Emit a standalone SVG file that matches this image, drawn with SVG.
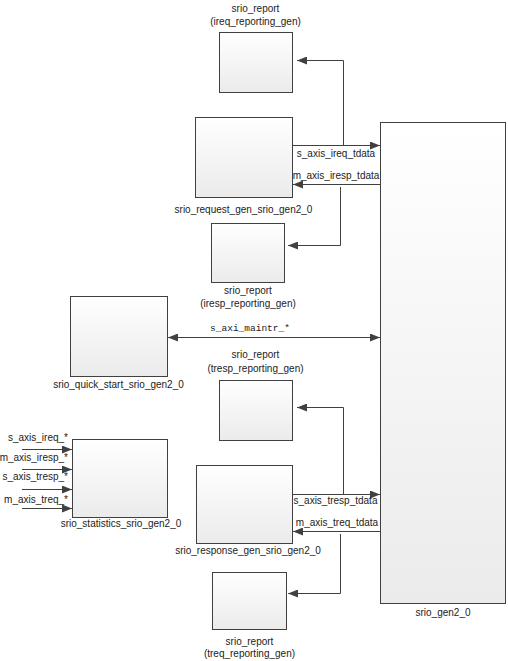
<svg xmlns="http://www.w3.org/2000/svg" width="508" height="661" viewBox="0 0 508 661">
<defs>
<linearGradient id="g" x1="0" y1="0" x2="0" y2="1">
<stop offset="0" stop-color="#ffffff"/>
<stop offset="1" stop-color="#ebebeb"/>
</linearGradient>
<marker id="ah" viewBox="0 0 10 8" refX="10" refY="4" markerWidth="10" markerHeight="8" markerUnits="userSpaceOnUse" orient="auto-start-reverse">
<path d="M0,0 L10,4 L0,8 Z" fill="#404040"/>
</marker>
</defs>
<style>
.box{fill:url(#g);stroke:#404040;stroke-width:1}
text{font-family:"Liberation Sans",Arial,sans-serif;font-size:10px;fill:#222}
.m{text-anchor:middle}
.e{text-anchor:end}
.mono{font-family:"Liberation Mono","Courier New",monospace;font-size:9.5px}
.c{fill:none;stroke:#404040;stroke-width:1}
</style>
<rect width="508" height="661" fill="#ffffff"/>

<g id="srio_gen2_0">
<rect class="box" x="380.5" y="122.5" width="125" height="481"/>
<text class="m" x="443" y="616">srio_gen2_0</text>
</g>
<g id="ireq_reporting_gen">
<rect class="box" x="219.5" y="32.5" width="73" height="60"/>
<text class="m" x="255.5" y="12">srio_report</text>
<text class="m" x="255.5" y="25">(ireq_reporting_gen)</text>
</g>
<g id="srio_request_gen">
<rect class="box" x="195.5" y="117.5" width="97" height="80"/>
<text class="m" x="243.5" y="213">srio_request_gen_srio_gen2_0</text>
</g>
<g id="iresp_reporting_gen">
<rect class="box" x="211.5" y="223.5" width="73" height="59"/>
<text class="m" x="248" y="294">srio_report</text>
<text class="m" x="248" y="307">(iresp_reporting_gen)</text>
</g>
<g id="srio_quick_start">
<rect class="box" x="70.5" y="296.5" width="97" height="80"/>
<text class="m" x="118.5" y="388">srio_quick_start_srio_gen2_0</text>
</g>
<g id="tresp_reporting_gen">
<rect class="box" x="219.5" y="380.5" width="73" height="60"/>
<text class="m" x="255.5" y="358">srio_report</text>
<text class="m" x="255.5" y="372">(tresp_reporting_gen)</text>
</g>
<g id="srio_statistics">
<rect class="box" x="72.5" y="439.5" width="95" height="78"/>
<text class="m" x="121" y="527">srio_statistics_srio_gen2_0</text>
</g>
<g id="srio_response_gen">
<rect class="box" x="196.5" y="465.5" width="96" height="78"/>
<text class="m" x="248" y="554">srio_response_gen_srio_gen2_0</text>
</g>
<g id="treq_reporting_gen">
<rect class="box" x="212.5" y="572.5" width="74" height="57"/>
<text class="m" x="249.5" y="645">srio_report</text>
<text class="m" x="249.5" y="657">(treq_reporting_gen)</text>
</g>

<g id="connectors">
<path class="c" d="M292.5,145.5 H380" marker-end="url(#ah)"/>
<path class="c" d="M343.5,145.5 V60.5 H297" marker-end="url(#ah)"/>
<path class="c" d="M380.5,184.5 H293" marker-end="url(#ah)"/>
<path class="c" d="M340.5,187 V245.5 H288" marker-end="url(#ah)"/>
<path class="c" d="M168,337.5 H380" marker-start="url(#ah)" marker-end="url(#ah)"/>
<path class="c" d="M292.5,494.5 H380" marker-end="url(#ah)"/>
<path class="c" d="M343.5,494.5 V407.5 H297" marker-end="url(#ah)"/>
<path class="c" d="M380.5,531.5 H293" marker-end="url(#ah)"/>
<path class="c" d="M340.5,534 V593.5 H288" marker-end="url(#ah)"/>
<path class="c" d="M22,449.5 H72" marker-end="url(#ah)"/>
<path class="c" d="M22,469.5 H72" marker-end="url(#ah)"/>
<path class="c" d="M22,489.5 H72" marker-end="url(#ah)"/>
<path class="c" d="M22,508.5 H72" marker-end="url(#ah)"/>
<text class="m" x="336" y="157">s_axis_ireq_tdata</text>
<text class="m" x="336" y="179">m_axis_iresp_tdata</text>
<text class="m mono" x="250" y="331">s_axi_maintr_*</text>
<text class="m" x="335.5" y="504">s_axis_tresp_tdata</text>
<text class="m" x="337" y="526">m_axis_treq_tdata</text>
<text class="e" x="68" y="441">s_axis_ireq_*</text>
<text class="e" x="68" y="461">m_axis_iresp_*</text>
<text class="e" x="68" y="480">s_axis_tresp_*</text>
<text class="e" x="68" y="503">m_axis_treq_*</text>
</g>
</svg>
